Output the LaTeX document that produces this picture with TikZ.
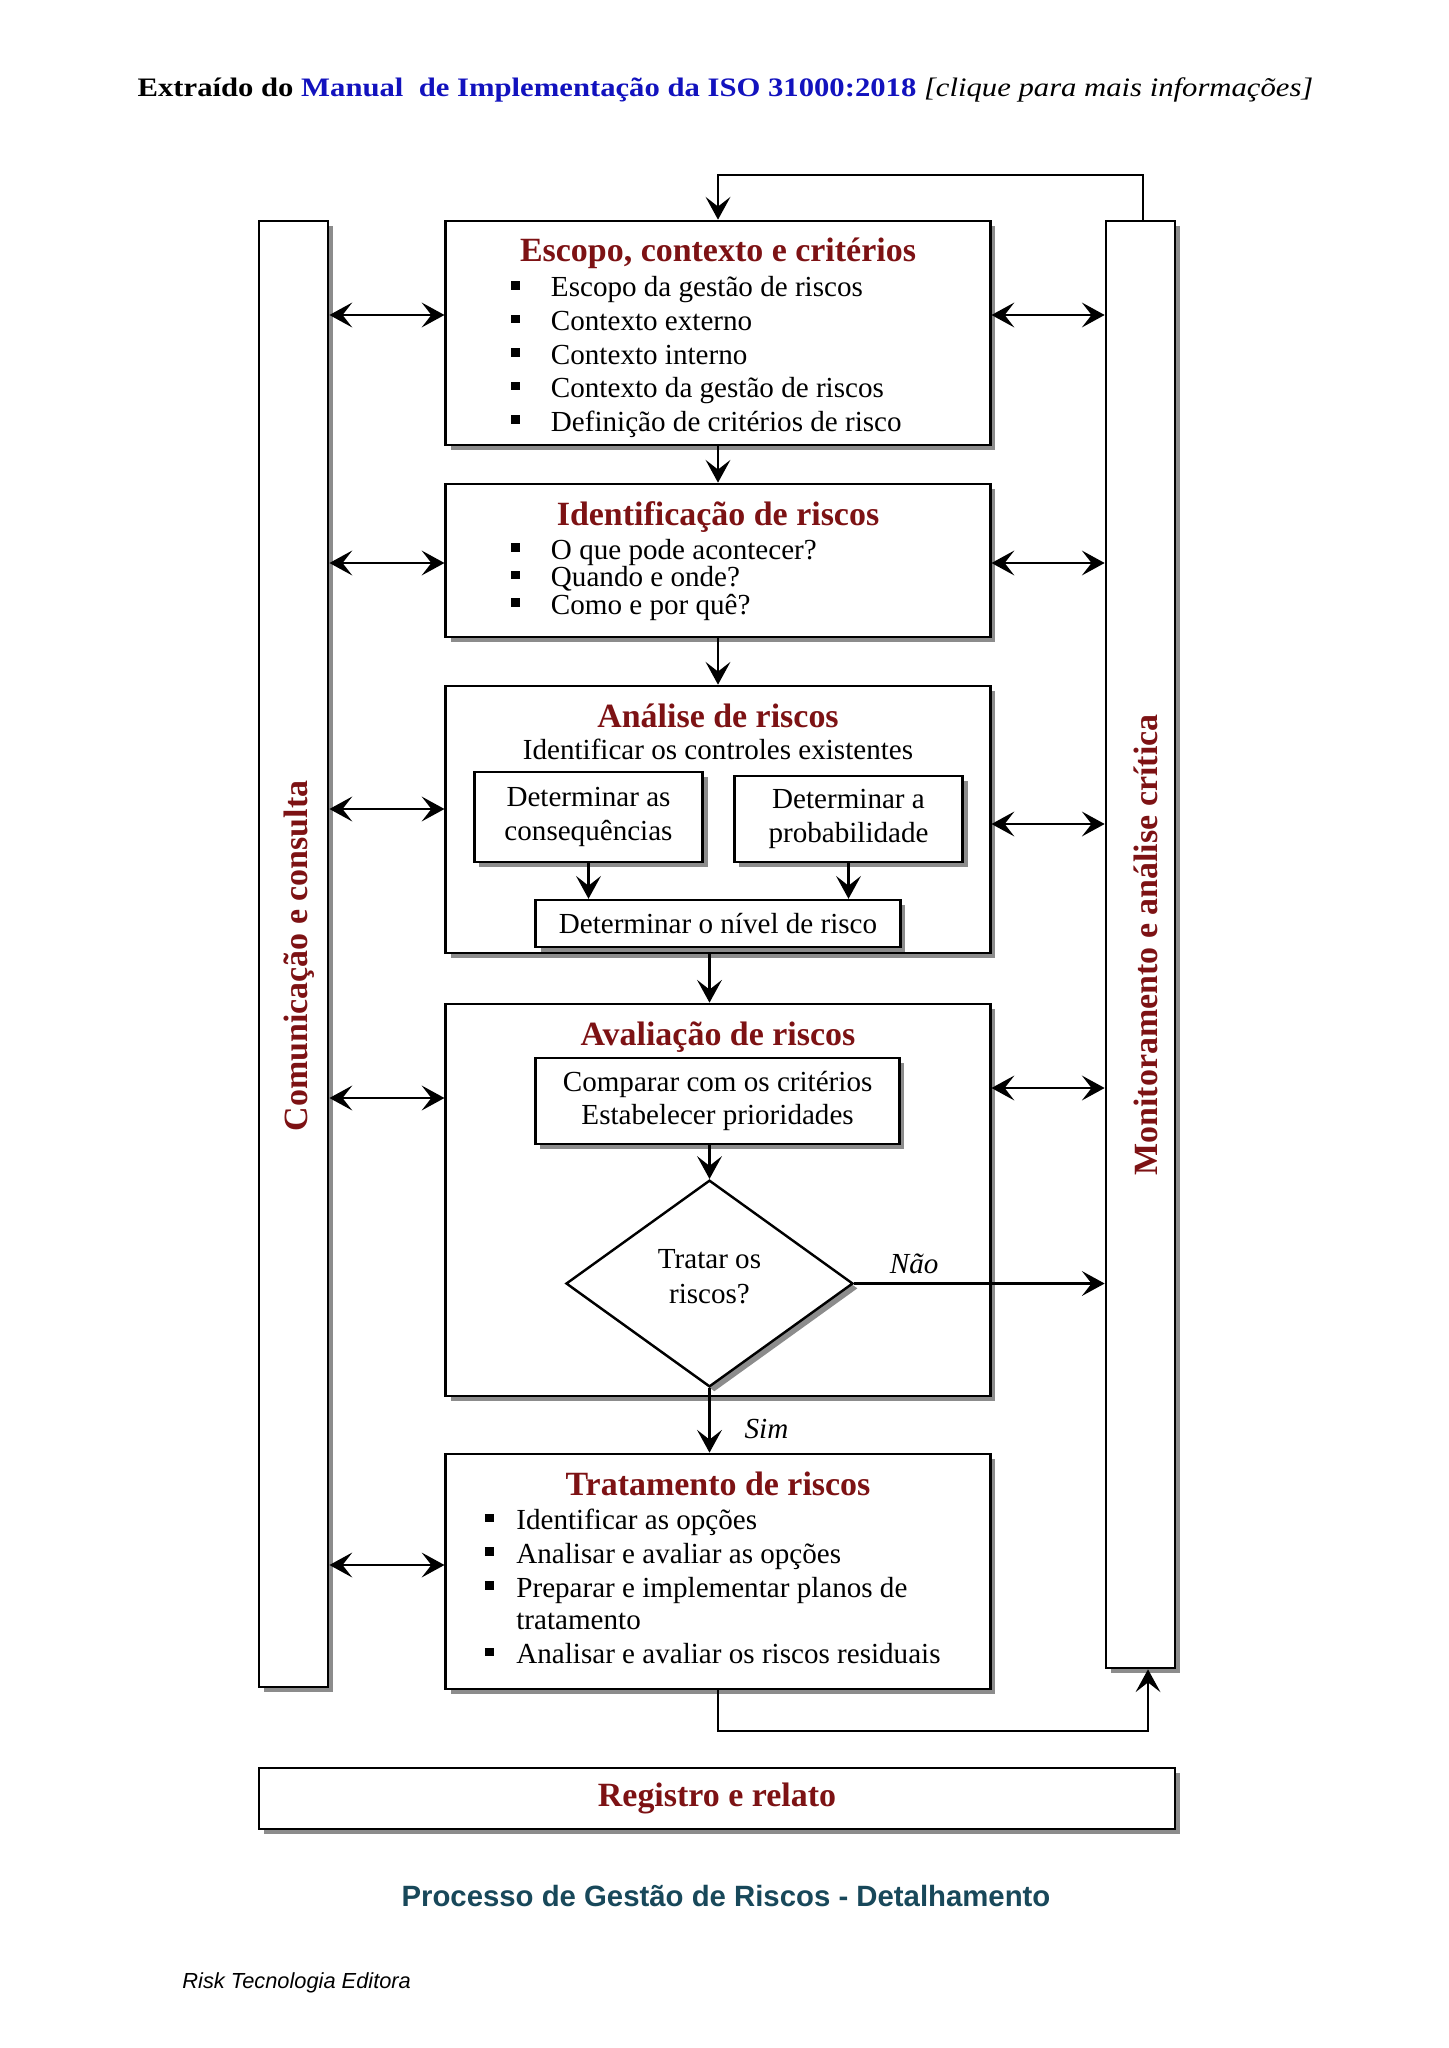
\documentclass[tikz,border=0pt]{standalone}
\usepackage{fontspec}
\setmainfont{Liberation Serif}
\newfontfamily\arialfont{Liberation Sans}
\newfontfamily\hdrfont[FakeStretch=1.15]{Liberation Serif}
\usetikzlibrary{arrows.meta,shapes.geometric,shadows}
\definecolor{titlered}{RGB}{125,18,20}
\definecolor{hdrblue}{RGB}{18,18,190}
\definecolor{captionteal}{RGB}{24,72,90}
\newcommand{\px}{0.014503cm}
\newcommand{\sqbullet}{\rule[2.9pt]{3.6pt}{3.5pt}}
\newcommand{\bodyfont}{\fontsize{12}{13.8}\selectfont}

\begin{document}
\begin{tikzpicture}[x=\px,y=-\px,
  boxsize/.style 2 args={minimum width=#1*\px,minimum height=#2*\px},
  box/.style={draw,line width=1.1pt,fill=white,inner sep=0pt,
    drop shadow={shadow xshift=2pt,shadow yshift=-2pt,fill=black!45,opacity=1}},
  subbox/.style={box,line width=1pt,align=center,font=\bodyfont},
  decision/.style={diamond,draw,line width=1pt,fill=white,inner sep=0pt,
    drop shadow={shadow xshift=2pt,shadow yshift=-2pt,fill=black!45,opacity=1}},
  ttl/.style={anchor=base,inner sep=0pt,font=\fontsize{14}{16}\selectfont\bfseries,text=titlered},
  side/.style={rotate=90,inner sep=0pt,font=\fontsize{14}{16}\selectfont\bfseries,text=titlered},
  itm/.style={anchor=base west,inner sep=0pt,font=\bodyfont},
  bul/.style={anchor=base west,inner sep=0pt},
  lbl/.style={anchor=base west,inner sep=0pt,font=\bodyfont\itshape},
  tip/.tip={Stealth[length=3.3mm,width=3.6mm,inset=1.4mm]},
  arr/.style={line width=0.9pt,-tip},
  dbl/.style={line width=0.9pt,tip-tip}]
\useasboundingbox[fill=white] (0,0) rectangle (1448,2048);

% header
\node[anchor=base,inner sep=0pt,font=\hdrfont\fontsize{11}{13}\selectfont] (hdr) at (725.5,97)
  {\textbf{Extraído do} \textcolor{hdrblue}{\textbf{Manual~ de Implementação da ISO 31000:2018}} \textit{[clique para mais informações]}};

% side bars
\node[box,boxsize={69}{1466}] (comm) at (293.6,954) {};
\node[box,boxsize={69}{1447}] (mon) at (1140.5,944.5) {};
\node[side] (comm-t) at (299.5,956) {Comunicação e consulta};
\node[side] (mon-t) at (1145.5,945) {Monitoramento e análise crítica};

% main boxes
\node[box,boxsize={544.4}{224}] (scope) at (718,333) {};
\node[box,boxsize={544.4}{153}] (ident) at (718,560.5) {};
\node[box,boxsize={544.4}{267}] (anal) at (718,819.5) {};
\node[box,boxsize={544.4}{392}] (aval) at (718,1200) {};
\node[box,boxsize={544.4}{235}] (trat) at (718,1571.5) {};
\node[box,boxsize={916}{61},font=\fontsize{14}{16}\selectfont\bfseries,text=titlered] (reg) at (717,1798.5)
  {Registro e relato};

% escopo
\node[ttl] (scope-t) at (718,262) {Escopo, contexto e critérios};
\foreach \t [count=\i] in {Escopo da gestão de riscos,Contexto externo,Contexto interno,
    Contexto da gestão de riscos,Definição de critérios de risco}{
  \node[bul] (scope-b\i) at (511,{297+33.5*(\i-1)}) {\sqbullet};
  \node[itm] (scope-i\i) at (550.5,{297+33.5*(\i-1)}) {\t};
}

% identificacao
\node[ttl] (ident-t) at (718,525) {Identificação de riscos};
\foreach \t [count=\i] in {O que pode acontecer?,Quando e onde?,Como e por quê?}{
  \node[bul] (ident-b\i) at (511,{559+27.5*(\i-1)}) {\sqbullet};
  \node[itm] (ident-i\i) at (550.5,{559+27.5*(\i-1)}) {\t};
}

% analise
\node[ttl] (anal-t) at (718,727) {Análise de riscos};
\node[itm,anchor=base] (anal-s) at (718,759) {Identificar os controles existentes};
\node[subbox,boxsize={228.3}{90}] (cons) at (588.5,817) {Determinar as\\consequências};
\node[subbox,boxsize={228.3}{86}] (prob) at (848.5,819) {Determinar a\\probabilidade};
\node[subbox,boxsize={364.6}{47}] (nivel) at (718,923.5) {Determinar o nível de risco};

% avaliacao
\node[ttl] (aval-t) at (718,1045) {Avaliação de riscos};
\node[subbox,boxsize={364}{86}] (comp) at (717.6,1101) {Comparar com os critérios\\Estabelecer prioridades};
\node[decision,boxsize={287}{206.7}] (tratar) at (709.5,1283.5) {};
\node[inner sep=0pt,align=center,font=\fontsize{12}{14.4}\selectfont] (tratar-t) at (709.5,1276.5) {Tratar os\\riscos?};
\node[lbl] (nao) at (889.4,1273) {Não};
\node[lbl] (sim) at (744.2,1438) {Sim};

% tratamento
\node[ttl] (trat-t) at (718,1495) {Tratamento de riscos};
\foreach \y/\t [count=\i] in {1529/Identificar as opções,1563/Analisar e avaliar as opções,
    1597/Preparar e implementar planos de,1663/Analisar e avaliar os riscos residuais}{
  \node[bul] (trat-b\i) at (484.3,\y) {\sqbullet};
  \node[itm] (trat-i\i) at (515.9,\y) {\t};
}
\node[itm] (trat-i5) at (515.9,1629) {tratamento};

% caption and footer
\node[anchor=base,inner sep=0pt,font=\arialfont\fontsize{12.1}{15}\selectfont\bfseries,text=captionteal] (cap) at (726,1906)
  {Processo de Gestão de Riscos - Detalhamento};
\node[anchor=base west,inner sep=0pt,font=\arialfont\fontsize{9}{11}\selectfont\itshape] (foot) at (182,1988)
  {Risk Tecnologia Editora};

% flow
\coordinate (loop) at (1143,175);
\coordinate (ret) at (1148,1731);
\draw[arr] (loop |- mon.north) -- (loop) -| (scope.north);
\draw[arr] (scope.south) -- (ident.north);
\draw[arr] (ident.south) -- (anal.north);
\draw[arr] (cons.south) -- (cons.south |- nivel.north);
\draw[arr] (prob.south) -- (prob.south |- nivel.north);
\draw[arr] (anal.south -| tratar.north) -- (aval.north -| tratar.north);
\draw[arr] (comp.south -| tratar.north) -- (tratar.north);
\draw[arr] (tratar.east) -- (tratar.east -| mon.west);
\draw[arr] (tratar.south) -- (trat.north -| tratar.south);
\draw[arr] (trat.south) |- (ret) -- (ret |- mon.south);

% exchanges with the side bars
\foreach \b/\y in {scope/315,ident/563,anal/809,aval/1098,trat/1565}
  \draw[dbl] (comm.east |- 0,\y) -- (\b.west |- 0,\y);
\foreach \b/\y in {scope/315,ident/563,anal/824,aval/1088}
  \draw[dbl] (\b.east |- 0,\y) -- (mon.west |- 0,\y);
\end{tikzpicture}
\end{document}
